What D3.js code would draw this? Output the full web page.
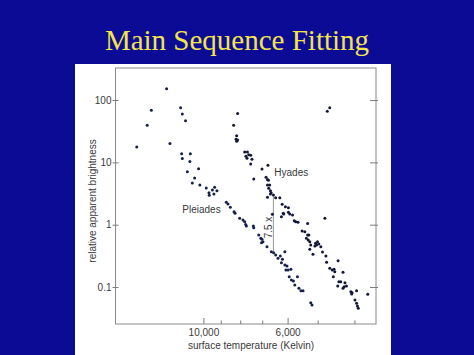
<!DOCTYPE html>
<html>
<head>
<meta charset="utf-8">
<script src="https://cdn.jsdelivr.net/npm/d3@7"></script>
<style>
html,body{margin:0;padding:0;background:#0b0b96;}
svg{display:block;}
</style>
</head>
<body>
<svg id="c" width="474" height="355"></svg>
<script>
// ---- data ----
const title = "Main Sequence Fitting";
const pleiadesT = [15030,14110,13760,12540,12290,11520,11400,11180,11450,10860,11400,10890,10330,11060,10580,10730,10250,9860,9700,9680,9500,9370,9240,9410,8730,8640,8520,8330,8280,8050,7890,7810,7760,7730,7410,7390,7170,7080,7030,6990,7050,6820,6640,6550,6470,6380,6290,6210,6120,6250,6120,6040,6000,6080,5900,5960,5880,5810,5670,5760,5620,5550,5480,5230,5190];
const pleiadesB = [17.7,39.4,68.6,152,20.0,75.5,59.8,46.7,13.8,13.8,11.5,10.3,7.92,7.09,5.62,4.67,4.34,3.88,3.26,2.96,3.61,3.98,3.51,3.11,2.29,2.15,1.90,1.62,1.52,1.27,1.19,1.12,1.01,0.953,0.953,0.895,0.683,0.605,0.583,0.533,0.514,0.443,0.369,0.355,0.326,0.289,0.315,0.278,0.369,0.245,0.225,0.217,0.187,0.187,0.192,0.146,0.130,0.125,0.146,0.108,0.0953,0.0872,0.0872,0.056,0.0514];
const hyadesT = [8150,8350,8200,8230,8200,8150,7810,7680,7620,7750,7530,7700,7470,7530,7030,6780,7390,6860,6800,6760,6800,6710,6750,6680,6650,6560,6680,6800,6470,6310,6220,6100,5990,5990,6180,5940,6600,6250,6160,5840,5780,5730,5650,5330,4800,5510,5420,5330,5290,5370,5310,5260,5230,5260,5160,5080,5020,4980,5050,4920,5100,4870,4770,4750,4430,4660,4590,4540,4520,4560,4300,4410,4360,4250,4440,4270,4210,4300,4100,4070,3960,4080,3700,4000,3960,3940,3920,4660,4730];
const hyadesB = [60.9,39.4,26.8,23.5,21.8,22.9,14.7,14.7,13.3,12.5,13.0,11.6,11.2,9.43,7.84,8.98,5.41,5.77,5.32,5.16,4.34,4.34,3.84,3.51,3.26,3.00,3.11,2.75,2.71,2.71,2.13,1.94,1.87,1.58,1.52,1.48,1.47,1.34,1.48,1.43,1.16,1.12,1.09,1.05,1.27,0.792,0.772,0.683,0.683,0.605,0.568,0.533,0.472,0.403,0.335,0.503,0.533,0.490,0.472,0.443,0.455,0.365,0.315,0.249,0.264,0.200,0.187,0.192,0.176,0.146,0.172,0.122,0.122,0.117,0.104,0.101,0.104,0.0953,0.0841,0.081,0.0872,0.0772,0.0763,0.0618,0.0547,0.0495,0.0455,75.5,66.1];
const yTicks = [0.1, 1, 10, 100];
const yTickLabels = ["0.1", "1", "10", "100"];
const xTicks = [10000, 9000, 8000, 7000, 6000, 5000, 4000];
const xLabelTicks = [10000, 6000];
const xLabelText = ["10,000", "6,000"];
const gapT = 6560;          // temperature of the vertical offset marker
const gapB = [2.95, 0.37];  // brightness span of the marker
const gapLabel = "7.5 x";

// ---- drawing ----
const svg = d3.select("#c");
svg.append("rect").attr("width",474).attr("height",355).attr("fill","#0b0b96");
svg.append("text").attr("x",237).attr("y",50).attr("text-anchor","middle")
  .attr("font-family","'Liberation Serif','Times New Roman',serif").attr("font-size",29)
  .attr("fill","#f2e44a").text(title);

// white panel
svg.append("rect").attr("x",75).attr("y",64).attr("width",316).attr("height",291).attr("fill","#ffffff");

const L=115.5, R=376, T=68, B=324;
const x = d3.scaleLog().domain([17100, 3520]).range([L, R]);
const y = d3.scaleLog().domain([0.0255, 327]).range([B, T]);

const g = svg.append("g");
g.append("rect").attr("x",L).attr("y",T).attr("width",R-L).attr("height",B-T)
  .attr("fill","none").attr("stroke","#8a8a8a").attr("stroke-width",1);

const font = "'Liberation Sans',Arial,Helvetica,sans-serif";
const txt = "#3a3a3a";

// left axis
const yl = d3.axisLeft(y).tickValues(yTicks).tickSize(6).tickFormat((d,i)=>yTickLabels[i]);
const gy = g.append("g").attr("transform",`translate(${L+3},0)`).call(yl);
gy.select(".domain").remove();
gy.selectAll(".tick line").attr("stroke","#7a7a7a");
gy.selectAll(".tick text").attr("font-family",font).attr("font-size",10).attr("fill",txt).attr("x",-7);

// right axis ticks
const yr = d3.axisRight(y).tickValues(yTicks).tickSize(8).tickFormat("");
const gyr = g.append("g").attr("transform",`translate(${R-6},0)`).call(yr);
gyr.select(".domain").remove();
gyr.selectAll(".tick line").attr("stroke","#7a7a7a");

// bottom axis ticks (inside)
const gx = g.append("g");
gx.selectAll("line").data(xTicks).join("line")
  .attr("x1",d=>x(d)).attr("x2",d=>x(d))
  .attr("y1",B).attr("y2",d=>B-(xLabelTicks.includes(d)?6:3.5))
  .attr("stroke","#7a7a7a");
gx.selectAll("text").data(xLabelTicks).join("text")
  .attr("x",d=>x(d)).attr("y",336).attr("text-anchor","middle")
  .attr("font-family",font).attr("font-size",10).attr("fill",txt)
  .text((d,i)=>xLabelText[i]);

// axis titles
g.append("text").attr("x",251).attr("y",349).attr("text-anchor","middle")
  .attr("font-family",font).attr("font-size",10).attr("fill",txt)
  .text("surface temperature (Kelvin)");
g.append("text").attr("transform","translate(95.5,201) rotate(-90)").attr("text-anchor","middle")
  .attr("font-family",font).attr("font-size",10).attr("fill",txt)
  .text("relative apparent brightness");

// offset marker
g.append("line").attr("x1",x(gapT)).attr("x2",x(gapT)).attr("y1",y(gapB[0])).attr("y2",y(gapB[1]))
  .attr("stroke","#9a9a9a").attr("stroke-width",1);
g.append("text").attr("transform",`translate(${x(gapT)-1.5},${(y(gapB[0])+y(gapB[1]))/2+4}) rotate(-90)`)
  .attr("text-anchor","middle").attr("font-family",font).attr("font-size",10).attr("fill",txt)
  .text(gapLabel);

// cluster labels
g.append("text").attr("x",182.3).attr("y",213.3).attr("font-family",font).attr("font-size",10).attr("fill",txt).text("Pleiades");
g.append("text").attr("x",274.3).attr("y",175.7).attr("font-family",font).attr("font-size",10).attr("fill",txt).text("Hyades");

// points
const pts = g.append("g");
pts.selectAll("circle.p").data(d3.range(pleiadesT.length)).join("circle").attr("class","p")
  .attr("cx",i=>x(pleiadesT[i])).attr("cy",i=>y(pleiadesB[i])).attr("r",1.5).attr("fill","#15204a");
pts.selectAll("circle.h").data(d3.range(hyadesT.length)).join("circle").attr("class","h")
  .attr("cx",i=>x(hyadesT[i])).attr("cy",i=>y(hyadesB[i])).attr("r",1.5).attr("fill","#141838");
</script>
</body>
</html>
